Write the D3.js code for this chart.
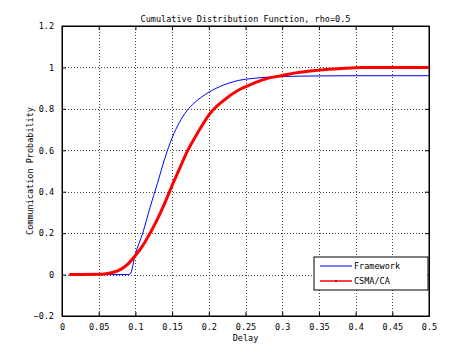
<!DOCTYPE html>
<html>
<head>
<meta charset="utf-8">
<script src="https://cdn.jsdelivr.net/npm/d3@7"></script>
<style>
  body { margin: 0; background: #fff; }
  svg text { font-family: "DejaVu Sans Mono", monospace; font-size: 8.5px; fill: #000; }
</style>
</head>
<body>
<div class="chart"></div>
<script>
// values
let blueDelay = [0.01, 0.05, 0.09, 0.093, 0.1, 0.11, 0.12, 0.13, 0.14, 0.15, 0.16, 0.17, 0.18, 0.19, 0.2, 0.22, 0.24, 0.26, 0.28, 0.3, 0.35, 0.4, 0.5];
let blueProb = [0, 0, 0, 0.003, 0.1, 0.2, 0.325, 0.44, 0.56, 0.66, 0.735, 0.79, 0.828, 0.857, 0.88, 0.915, 0.937, 0.947, 0.953, 0.956, 0.959, 0.96, 0.96];
let redDelay = [0.01, 0.05, 0.06, 0.07, 0.08, 0.09, 0.1, 0.11, 0.12, 0.13, 0.14, 0.15, 0.16, 0.17, 0.18, 0.19, 0.2, 0.22, 0.24, 0.26, 0.28, 0.3, 0.32, 0.35, 0.38, 0.4, 0.45, 0.5];
let redProb = [0, 0.001, 0.004, 0.011, 0.025, 0.052, 0.092, 0.14, 0.2, 0.268, 0.345, 0.43, 0.51, 0.59, 0.655, 0.715, 0.77, 0.84, 0.89, 0.922, 0.947, 0.961, 0.975, 0.987, 0.995, 0.999, 1, 1];
let xTicks = [0, 0.05, 0.1, 0.15, 0.2, 0.25, 0.3, 0.35, 0.4, 0.45, 0.5];
let yTicks = [-0.2, 0, 0.2, 0.4, 0.6, 0.8, 1, 1.2];
let seriesNames = ["Framework", "CSMA/CA"];

let outWidth = 474, outHeight = 355;
let margin = {top: 26, right: 45, left: 62, bottom: 39};
let width = outWidth - margin.left - margin.right,
    height = outHeight - margin.top - margin.bottom;

const svg = d3.select('.chart').append('svg')
    .attr("width", outWidth)
    .attr("height", outHeight);

const g = svg.append("g")
    .attr("transform", `translate(${margin.left}, ${margin.top})`);

let xScale = d3.scaleLinear().domain([0, 0.5]).range([0, width]);
let yScale = d3.scaleLinear().domain([-0.2, 1.2]).range([height, 0]);

// grid
g.append("g").selectAll("line.vg")
    .data(xTicks.slice(1, -1))
    .enter().append("line")
    .attr("x1", d => Math.round(xScale(d)) + 0.5).attr("x2", d => Math.round(xScale(d)) + 0.5)
    .attr("y1", 0).attr("y2", height)
    .attr("stroke", "#444").attr("stroke-dasharray", "1,2");
g.append("g").selectAll("line.hg")
    .data(yTicks.slice(1, -1))
    .enter().append("line")
    .attr("y1", d => Math.round(yScale(d)) + 0.5).attr("y2", d => Math.round(yScale(d)) + 0.5)
    .attr("x1", 0).attr("x2", width)
    .attr("stroke", "#444").attr("stroke-dasharray", "1,2");

// axes (ticks pointing in)
const xAxis = d3.axisBottom(xScale).tickValues(xTicks).tickSizeInner(-4).tickSizeOuter(0).tickPadding(8).tickFormat(d => d3.format("")(d));
const yAxis = d3.axisLeft(yScale).tickValues(yTicks).tickSizeInner(-4).tickSizeOuter(0).tickPadding(8).tickFormat(d => d3.format("")(+d.toFixed(1)));
const xTop = d3.axisTop(xScale).tickValues(xTicks).tickSizeInner(-4).tickSizeOuter(0).tickFormat("");
const yRight = d3.axisRight(yScale).tickValues(yTicks).tickSizeInner(-4).tickSizeOuter(0).tickFormat("");

g.append("g").attr("class", "axis x-axis").attr("transform", `translate(0, ${height})`).call(xAxis);
g.append("g").attr("class", "axis y-axis").call(yAxis);
g.append("g").attr("class", "axis").call(xTop);
g.append("g").attr("class", "axis").attr("transform", `translate(${width}, 0)`).call(yRight);
g.selectAll(".axis path").attr("stroke", "#000");
g.selectAll(".axis line").attr("stroke", "#000");
g.selectAll(".axis text").style("font-family", "DejaVu Sans Mono, monospace").style("font-size", "8.5px");
g.select(".x-axis").selectAll("text").attr("dy", "0.71em");

// box
g.append("rect").attr("width", width).attr("height", height)
    .attr("fill", "none").attr("stroke", "#000");

// curves
const line = d3.line()
    .x(d => xScale(d[0]))
    .y(d => yScale(d[1]))
    .curve(d3.curveMonotoneX);

g.append("path")
    .datum(blueDelay.map((d, i) => [d, blueProb[i]]))
    .attr("d", line)
    .attr("fill", "none").attr("stroke", "#0000ff").attr("stroke-width", 1);

g.append("path")
    .datum(redDelay.map((d, i) => [d, redProb[i]]))
    .attr("d", line)
    .attr("fill", "none").attr("stroke", "#ff0000").attr("stroke-width", 3);

// legend
const lg = svg.append("g").attr("transform", "translate(314, 257)");
lg.append("rect").attr("width", 114).attr("height", 33)
    .attr("fill", "#fff").attr("stroke", "#000");
const colors = ["#0000ff", "#ff0000"];
seriesNames.forEach((name, i) => {
    let y = 9 + i * 15;
    lg.append("line").attr("x1", 6).attr("x2", 38).attr("y1", y).attr("y2", y)
        .attr("stroke", colors[i]).attr("stroke-width", i == 0 ? 1 : 1.5);
    if (i == 1) {
        lg.append("circle").attr("cx", 22).attr("cy", y).attr("r", 1).attr("fill", "#b00000");
    }
    lg.append("text").attr("x", 40).attr("y", y + 3).text(name);
});

// labels
svg.append("text")
    .attr("x", margin.left + width / 2).attr("y", 22)
    .attr("text-anchor", "middle")
    .text("Cumulative Distribution Function, rho=0.5");

svg.append("text")
    .attr("x", margin.left + width / 2).attr("y", 341)
    .attr("text-anchor", "middle")
    .text("Delay");

svg.append("text")
    .attr("transform", `translate(33, ${margin.top + height / 2}) rotate(-90)`)
    .attr("text-anchor", "middle")
    .text("Communication Probability");
</script>
</body>
</html>
